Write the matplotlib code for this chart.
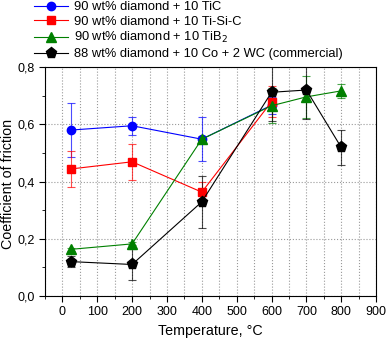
import matplotlib
matplotlib.use("Agg")
import matplotlib.pyplot as plt
from matplotlib.ticker import MultipleLocator, FuncFormatter

plt.rcParams['font.family'] = ['Liberation Sans', 'DejaVu Sans']

# data
temp_tic = [25, 200, 400, 600]
cof_tic = [0.58, 0.595, 0.548, 0.667]
err_tic = [0.093, 0.031, 0.076, 0.03]

temp_tisic = [25, 200, 400, 600]
cof_tisic = [0.444, 0.469, 0.363, 0.679]
err_tisic = [0.062, 0.063, 0.034, 0.055]

temp_tib2 = [25, 200, 400, 600, 700, 800]
cof_tib2 = [0.163, 0.182, 0.548, 0.665, 0.696, 0.717]
err_tib2 = [0.005, 0.005, 0.012, 0.062, 0.073, 0.024]

temp_wc = [25, 200, 400, 600, 700, 800]
cof_wc = [0.12, 0.11, 0.329, 0.712, 0.72, 0.519]
err_wc = [0.019, 0.053, 0.091, 0.1, 0.1, 0.06]

labels = ['90 wt% diamond + 10 TiC',
          '90 wt% diamond + 10 Ti-Si-C',
          '90 wt% diamond + 10 TiB$_2$',
          '88 wt% diamond + 10 Co + 2 WC (commercial)']

fig = plt.figure(figsize=(3.87, 3.39), dpi=100)
ax = fig.add_axes([0.116, 0.127, 0.856, 0.675])

series = [(temp_tic, cof_tic, err_tic, '#0000ff', 'o', 6),
          (temp_tisic, cof_tisic, err_tisic, '#ff0000', 's', 6),
          (temp_tib2, cof_tib2, err_tib2, '#008000', '^', 7),
          (temp_wc, cof_wc, err_wc, '#000000', 'p', 8)]

handles = []
for i, ((t, c, e, col, m, ms), lab) in enumerate(zip(series, labels)):
    # error bars first, a bit lighter like in the original
    ax.errorbar(t, c, yerr=e, color=col, ecolor=col, elinewidth=0.8,
                capsize=3, capthick=0.8, lw=0, zorder=2, alpha=0.7)
    h, = ax.plot(t, c, color=col, lw=0.8, marker=m, ms=ms,
                 markeredgecolor=col, markerfacecolor=col, label=lab,
                 zorder=3 + i)
    handles.append(h)

ax.set_xlim(-50, 900)
ax.set_ylim(0, 0.8)
ax.xaxis.set_major_locator(MultipleLocator(100))
ax.xaxis.set_minor_locator(MultipleLocator(50))
ax.yaxis.set_major_locator(MultipleLocator(0.2))
ax.yaxis.set_minor_locator(MultipleLocator(0.1))
ax.yaxis.set_major_formatter(FuncFormatter(lambda v, p: ('%.1f' % v).replace('.', ',')))
ax.tick_params(which='both', direction='out', top=False, right=False, labelsize=9)
ax.tick_params(which='major', length=4)
ax.tick_params(which='minor', length=2)
ax.grid(True, axis='x', which='both', ls=':', color='#999999', lw=0.8)
ax.grid(True, axis='y', which='major', ls=':', color='#999999', lw=0.8)
ax.set_axisbelow(True)

ax.set_xlabel('Temperature, °C', fontsize=10.3)
ax.set_ylabel('Coefficient of friction', fontsize=10.3)
ax.yaxis.set_label_coords(-0.09, 0.49)

fig.legend(handles=handles, loc='upper left', bbox_to_anchor=(0.075, 1.012),
           frameon=False, fontsize=9.3, handlelength=2.6, labelspacing=0.2,
           handletextpad=0.5, borderaxespad=0)

fig.savefig('out.png', dpi=100)
